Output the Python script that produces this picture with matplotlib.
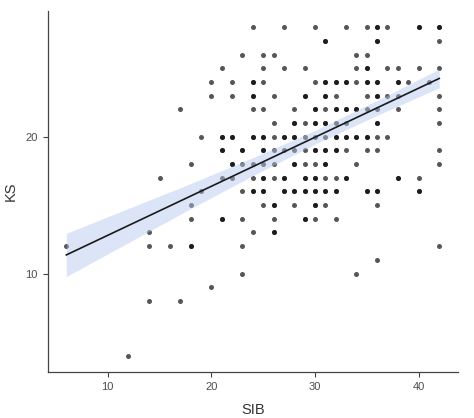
import numpy as np
import matplotlib
matplotlib.use('Agg')
import matplotlib.pyplot as plt

ks_levels = [28, 27, 26, 25, 24, 23, 22, 21, 20, 19, 18, 17, 16, 15, 14, 13, 12, 11, 10, 9, 8, 4]
sib_rows = [
    [24, 27, 30, 33, 35, 36, 37, 40, 42],
    [31, 36, 42],
    [23, 25, 26, 34, 35],
    [21, 25, 27, 29, 34, 35, 37, 38, 40, 42],
    [20, 22, 24, 25, 30, 31, 32, 33, 34, 35, 36, 38, 39, 41],
    [20, 22, 24, 26, 29, 31, 32, 35, 36, 37, 38, 42],
    [17, 24, 25, 28, 30, 31, 32, 33, 34, 35, 36, 38, 42],
    [26, 28, 29, 30, 31, 32, 33, 36, 42],
    [19, 21, 22, 24, 25, 26, 27, 28, 29, 30, 31, 32, 33, 34, 35, 36, 37],
    [21, 23, 25, 26, 27, 28, 29, 30, 31, 32, 33, 35, 36, 42],
    [18, 22, 23, 24, 25, 26, 28, 29, 30, 31, 34, 42],
    [15, 21, 22, 24, 25, 26, 27, 29, 30, 31, 32, 33, 38, 40],
    [19, 23, 24, 25, 27, 28, 29, 30, 31, 32, 35, 36, 40],
    [18, 25, 26, 28, 30, 31, 36],
    [18, 21, 23, 26, 29, 30, 32],
    [14, 24, 26],
    [6, 14, 16, 18, 23, 42],
    [36],
    [23, 34],
    [20],
    [14, 17],
    [12],
]

# darker dots = repeated observations
dup_sib = [36, 40, 42, 31, 36, 35, 24, 31, 32, 33, 35, 36, 38, 24, 29, 31, 36,
           30, 32, 33, 34, 28, 30, 31, 36, 21, 22, 24, 25, 27, 28, 32, 33, 34, 35,
           21, 23, 25, 30, 31, 32, 22, 28, 31, 25, 27, 29, 30, 33, 38,
           24, 25, 27, 28, 29, 30, 31, 32, 35, 36, 40, 26, 30, 21, 29, 26, 18]
dup_ks = [28, 28, 28, 27, 27, 25, 24, 24, 24, 24, 24, 24, 24, 23, 23, 23, 23,
          22, 22, 22, 22, 21, 21, 21, 21, 20, 20, 20, 20, 20, 20, 20, 20, 20, 20,
          19, 19, 19, 19, 19, 19, 18, 18, 18, 17, 17, 17, 17, 17, 17,
          16, 16, 16, 16, 16, 16, 16, 16, 16, 16, 16, 15, 15, 14, 14, 13, 12]

# fitted line and its confidence band
fit_sib = [6, 42]
fit_ks = [11.36, 24.26]
band_sib = [6, 12, 18, 24, 30, 36, 42]
band_half = [1.58, 1.25, 0.92, 0.66, 0.50, 0.55, 0.68]

sib = []
ks = []
for level, row in zip(ks_levels, sib_rows):
    sib += row
    ks += [level] * len(row)
sib = np.array(sib + dup_sib, dtype=float)
ks = np.array(ks + dup_ks, dtype=float)

band_mid = np.interp(band_sib, fit_sib, fit_ks)
band_half = np.array(band_half)

plt.rcParams['font.family'] = ['Liberation Sans', 'DejaVu Sans']

fig = plt.figure(figsize=(4.74, 4.18), dpi=100)
ax = fig.add_axes([0.1006, 0.110, 0.8654, 0.864])

ax.scatter(sib, ks, s=13, color='black', alpha=0.66, linewidths=0, zorder=2)
ax.fill_between(band_sib, band_mid - band_half, band_mid + band_half,
                color='#b3c7ee', alpha=0.45, linewidth=0, zorder=3)
ax.plot(fit_sib, fit_ks, color='#1a1a1a', linewidth=1.2, zorder=4)

ax.set_xlim(4.2, 43.8)
ax.set_ylim(2.8, 29.2)
ax.set_xticks([10, 20, 30, 40])
ax.set_yticks([10, 20])

for side in ['top', 'right']:
    ax.spines[side].set_visible(False)
for side in ['left', 'bottom']:
    ax.spines[side].set_color('#444444')
    ax.spines[side].set_linewidth(0.9)
ax.tick_params(colors='#444444', labelcolor='#4d4d4d', labelsize=8, length=3.5, width=0.8)

ax.set_xlabel('SIB', fontsize=10.5, color='#333333', labelpad=8)
ax.set_ylabel('KS', fontsize=10.5, color='#333333', labelpad=6)

fig.savefig('out.png', dpi=100)
